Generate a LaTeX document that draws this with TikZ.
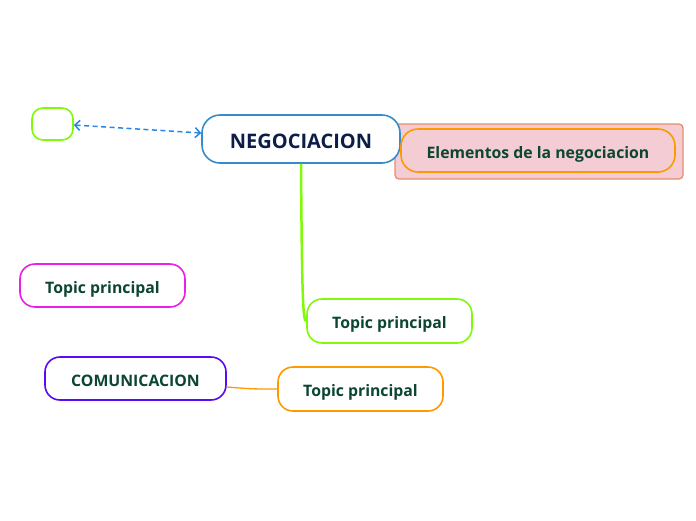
\documentclass[tikz,border=0pt]{standalone}
\usepackage{fontspec}
\setmainfont{Open Sans}
\usetikzlibrary{arrows.meta,positioning}
\definecolor{negoblue}{RGB}{52,140,205}
\definecolor{negotext}{RGB}{12,30,72}
\definecolor{topictext}{RGB}{12,70,50}
\definecolor{limegreen}{RGB}{128,250,10}
\definecolor{topicorange}{RGB}{255,153,0}
\definecolor{topicmagenta}{RGB}{235,30,235}
\definecolor{topicpurple}{RGB}{90,10,245}
\definecolor{panelpink}{RGB}{244,205,212}
\definecolor{panelsalmon}{RGB}{232,140,110}
\definecolor{linkblue}{RGB}{40,135,230}

\tikzset{
  topic/.style={draw,line width=1.6pt,rounded corners=15pt,minimum height=43pt,
    text=topictext,font=\bfseries\fontsize{15.8}{18}\selectfont,fill=white,
    text height=15.5pt,text depth=0pt},
}

\begin{document}
\begin{tikzpicture}[x=1pt,y=-1pt]
    \useasboundingbox (0,0) rectangle (696,520);
    % pink panel behind the sub topic
    \draw[panelsalmon,fill=panelpink,line width=1.3pt,rounded corners=4pt]
      (395,124) rectangle (683,179);
    \node[topic,draw=negoblue,text=negotext,minimum width=198pt,minimum height=48pt,
      rounded corners=18pt,text height=19pt,font=\bfseries\fontsize{20}{24}\selectfont] (nego) at (301,139) {NEGOCIACION};
    \node[topic,draw=topicorange,fill=panelpink,minimum width=274pt,rounded corners=17pt] (elem) at (538,150.5) {Elementos de la negociacion};
    \node[topic,draw=limegreen,minimum width=41pt,minimum height=32pt,rounded corners=11pt] (empty) at (52.5,124) {};
    \node[topic,draw=topicmagenta,minimum width=165pt] (tpmag) at (102.5,285.5) {Topic principal};
    \node[topic,draw=limegreen,minimum width=165pt,minimum height=44pt] (tpgreen) at (389.5,321) {Topic principal};
    \node[topic,draw=topicpurple,minimum width=181pt] (comu) at (135.5,378.5) {COMUNICACION};
    \node[topic,draw=topicorange,minimum width=165pt,minimum height=44pt] (tporange) at (360.5,389) {Topic principal};
    % connectors
    \draw[linkblue,dash pattern=on 5pt off 3.5pt,line width=1.5pt,
      {Straight Barb[length=5pt]}-{Straight Barb[length=5pt]}]
      ([yshift=-1pt]empty.east) -- ([yshift=6pt]nego.west);
    \draw[limegreen,line width=2.5pt] (nego.south) .. controls (302,300) and (303,321) .. (tpgreen.west);
    \draw[topicorange,line width=1.3pt] ([yshift=-8.5pt]comu.east) .. controls (252,389) .. (tporange.west);
  \end{tikzpicture}
\end{document}
